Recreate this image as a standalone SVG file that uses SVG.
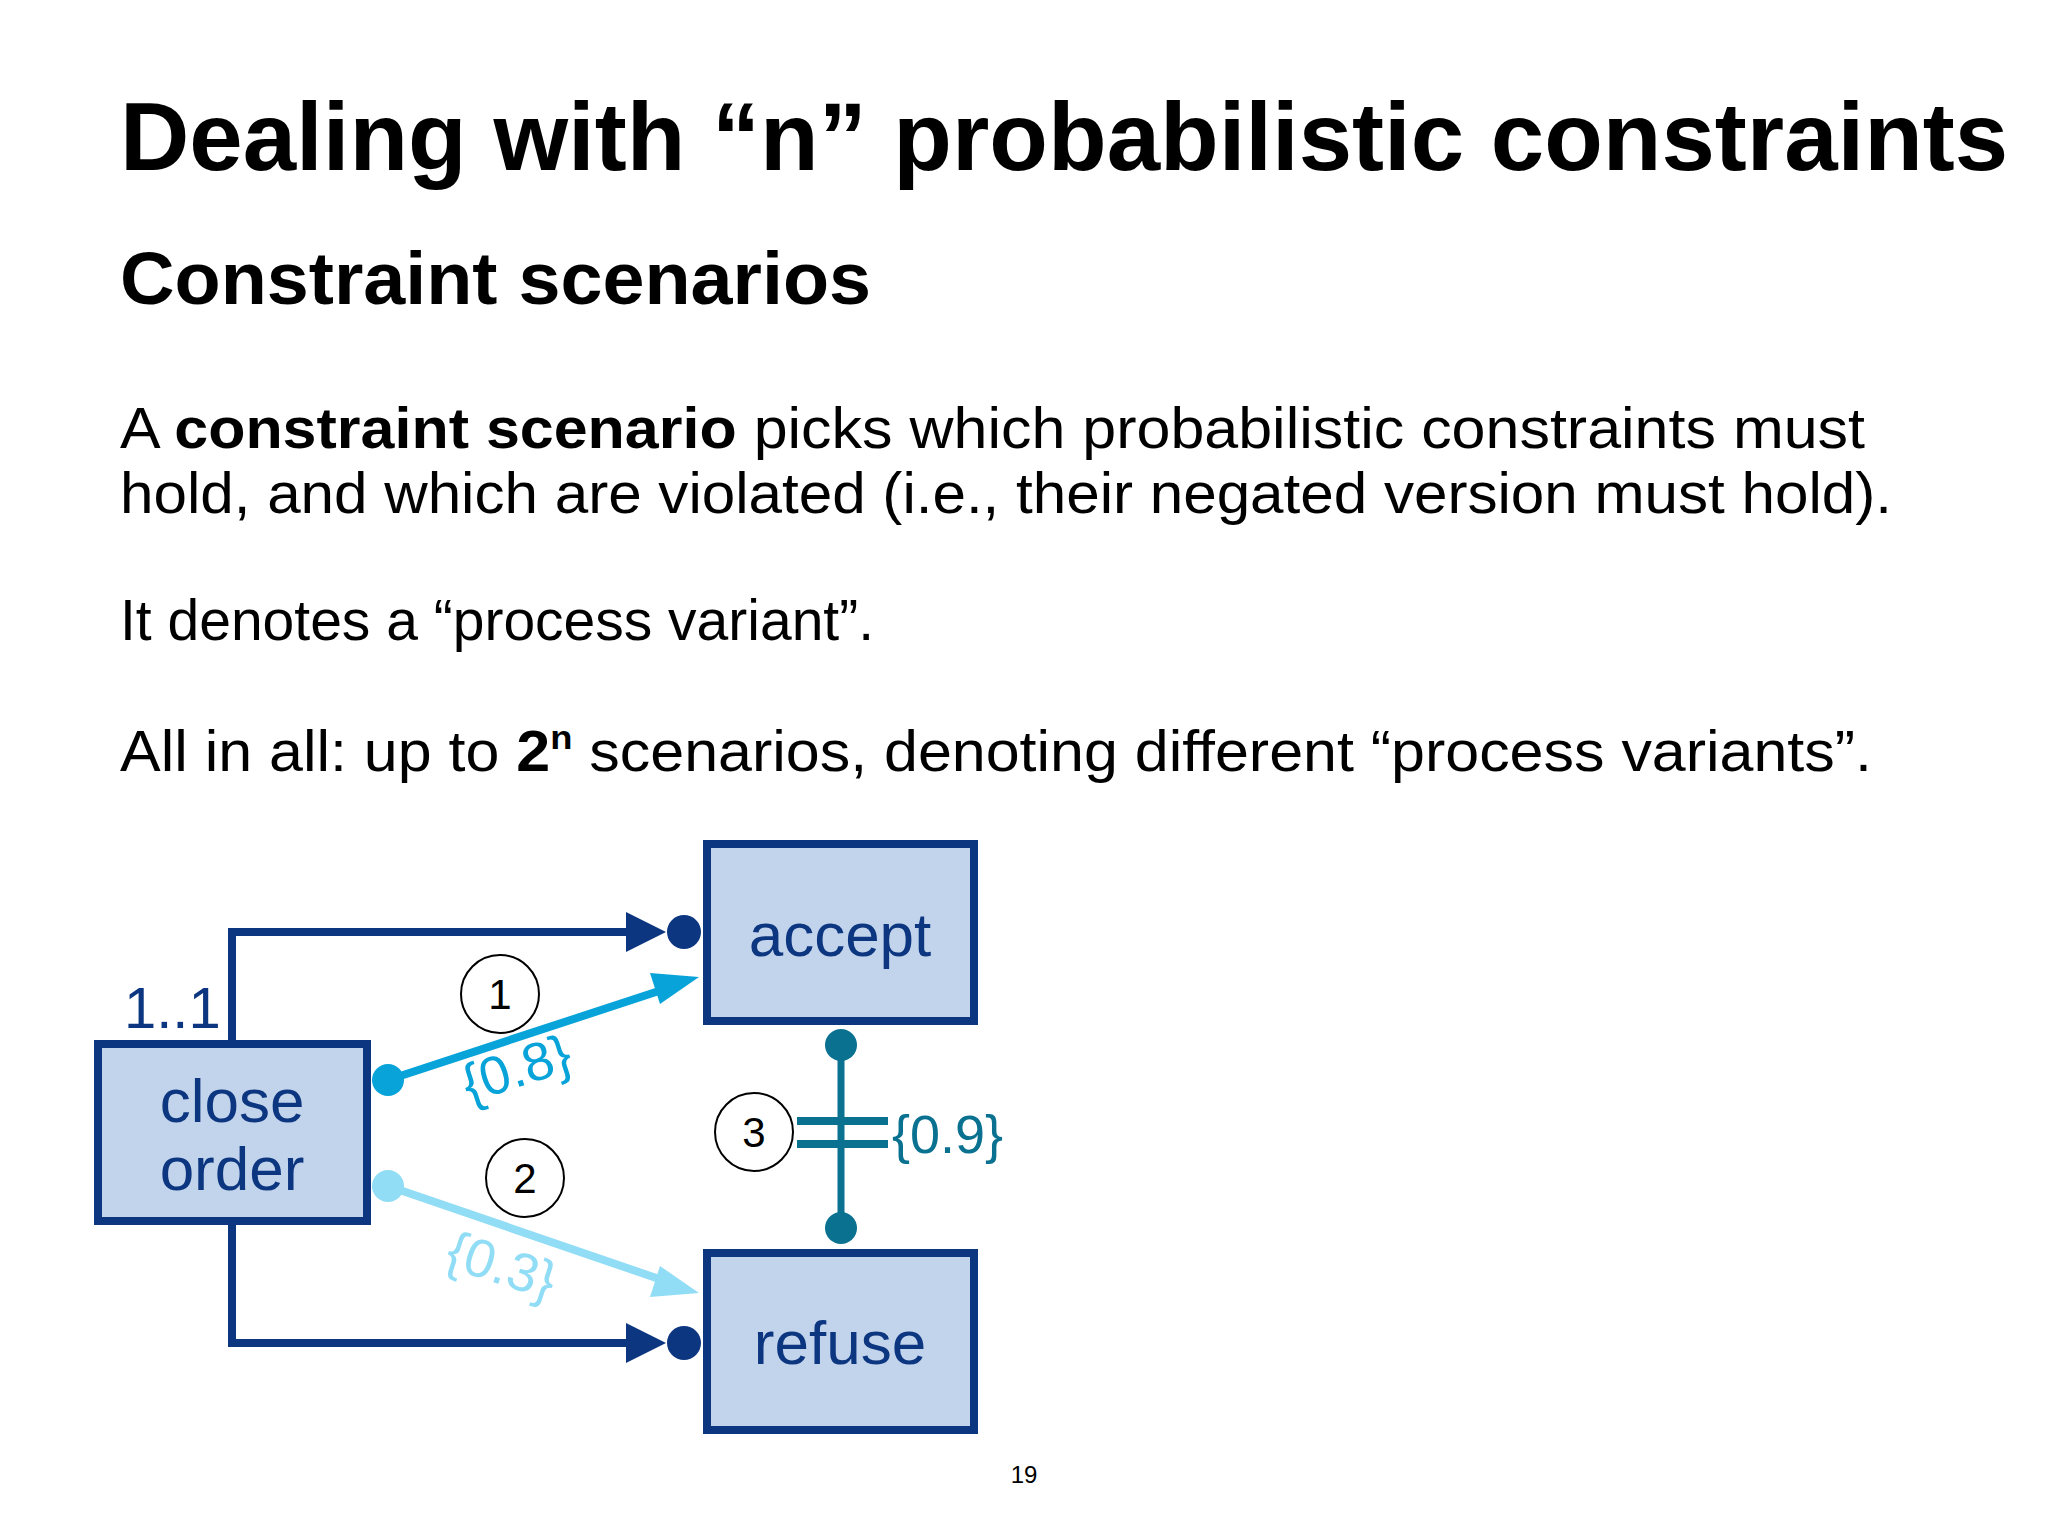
<svg xmlns="http://www.w3.org/2000/svg" width="2048" height="1536" viewBox="0 0 2048 1536">
<style>
text{font-family:"Liberation Sans",Arial,sans-serif}
.box{fill:#c2d4eb;stroke:#0d3680;stroke-width:8}
.lbl{fill:#0d3680;font-size:62px;text-anchor:middle}
.body{font-size:57px;fill:#000}
.num{font-size:42px;text-anchor:middle;fill:#000}
.circ{fill:#fff;stroke:#000;stroke-width:2}
</style>
<rect width="2048" height="1536" fill="#fff"/>
<text x="120" y="170" font-size="96" font-weight="bold">Dealing with “n” probabilistic constraints</text>
<text x="120" y="304" font-size="74" font-weight="bold" textLength="751" lengthAdjust="spacingAndGlyphs">Constraint scenarios</text>
<text class="body" x="120" y="448" textLength="1745" lengthAdjust="spacingAndGlyphs">A <tspan font-weight="bold">constraint scenario</tspan> picks which probabilistic constraints must</text>
<text class="body" x="120" y="513" textLength="1772" lengthAdjust="spacingAndGlyphs">hold, and which are violated (i.e., their negated version must hold).</text>
<text class="body" x="120" y="640">It denotes a “process variant”.</text>
<text class="body" x="120" y="771" textLength="1752" lengthAdjust="spacingAndGlyphs">All in all: up to <tspan font-weight="bold">2</tspan><tspan font-size="34" dy="-22" font-weight="bold">n</tspan><tspan dy="22"> scenarios, denoting different “process variants”.</tspan></text>

<g id="connectors">
<polyline points="232,1041 232,932 630,932" fill="none" stroke="#0d3680" stroke-width="8"/>
<polygon points="626,912 666,932 626,952" fill="#0d3680"/>
<circle cx="684" cy="932" r="17" fill="#0d3680"/>
<polyline points="232,1224 232,1343 630,1343" fill="none" stroke="#0d3680" stroke-width="8"/>
<polygon points="626,1323 666,1343 626,1363" fill="#0d3680"/>
<circle cx="684" cy="1343" r="17" fill="#0d3680"/>
<line x1="388" y1="1080" x2="665" y2="989" stroke="#07a3d9" stroke-width="8"/>
<polygon points="699,977 660,1004 650,973" fill="#07a3d9"/>
<circle cx="388" cy="1080" r="16" fill="#07a3d9"/>
<line x1="388" y1="1186" x2="665" y2="1281" stroke="#91ddf6" stroke-width="8"/>
<polygon points="699,1293 650,1297 660,1266" fill="#91ddf6"/>
<circle cx="388" cy="1186" r="16" fill="#91ddf6"/>
<line x1="841" y1="1045" x2="841" y2="1228" stroke="#0a7190" stroke-width="7"/>
<circle cx="841" cy="1045" r="16" fill="#0a7190"/>
<circle cx="841" cy="1228" r="16" fill="#0a7190"/>
<line x1="797" y1="1121" x2="888" y2="1121" stroke="#0a7190" stroke-width="8"/>
<line x1="797" y1="1144" x2="888" y2="1144" stroke="#0a7190" stroke-width="8"/>
<text x="892" y="1153" font-size="54" fill="#0a7190">{0.9}</text>
<text transform="translate(522,1086) rotate(-18)" font-size="54" fill="#07a3d9" text-anchor="middle">{0.8}</text>
<text transform="translate(496,1283) rotate(18)" font-size="54" fill="#91ddf6" text-anchor="middle">{0.3}</text>
<circle class="circ" cx="500" cy="994" r="39"/><text class="num" x="500" y="1009">1</text>
<circle class="circ" cx="525" cy="1178" r="39"/><text class="num" x="525" y="1193">2</text>
<circle class="circ" cx="754" cy="1132" r="39"/><text class="num" x="754" y="1147">3</text>
</g>
<g id="close_order">
<rect class="box" x="98" y="1044" width="269" height="177"/>
<text class="lbl" x="232" y="1122">close</text>
<text class="lbl" x="232" y="1190">order</text>
<text x="124" y="1028" font-size="58" fill="#0d3680">1..1</text>
</g>
<g id="accept">
<rect class="box" x="707" y="844" width="267" height="177"/>
<text class="lbl" x="840" y="956">accept</text>
</g>
<g id="refuse">
<rect class="box" x="707" y="1253" width="267" height="177"/>
<text class="lbl" x="840" y="1364">refuse</text>
</g>
<text x="1024" y="1483" font-size="24" text-anchor="middle">19</text>
</svg>
